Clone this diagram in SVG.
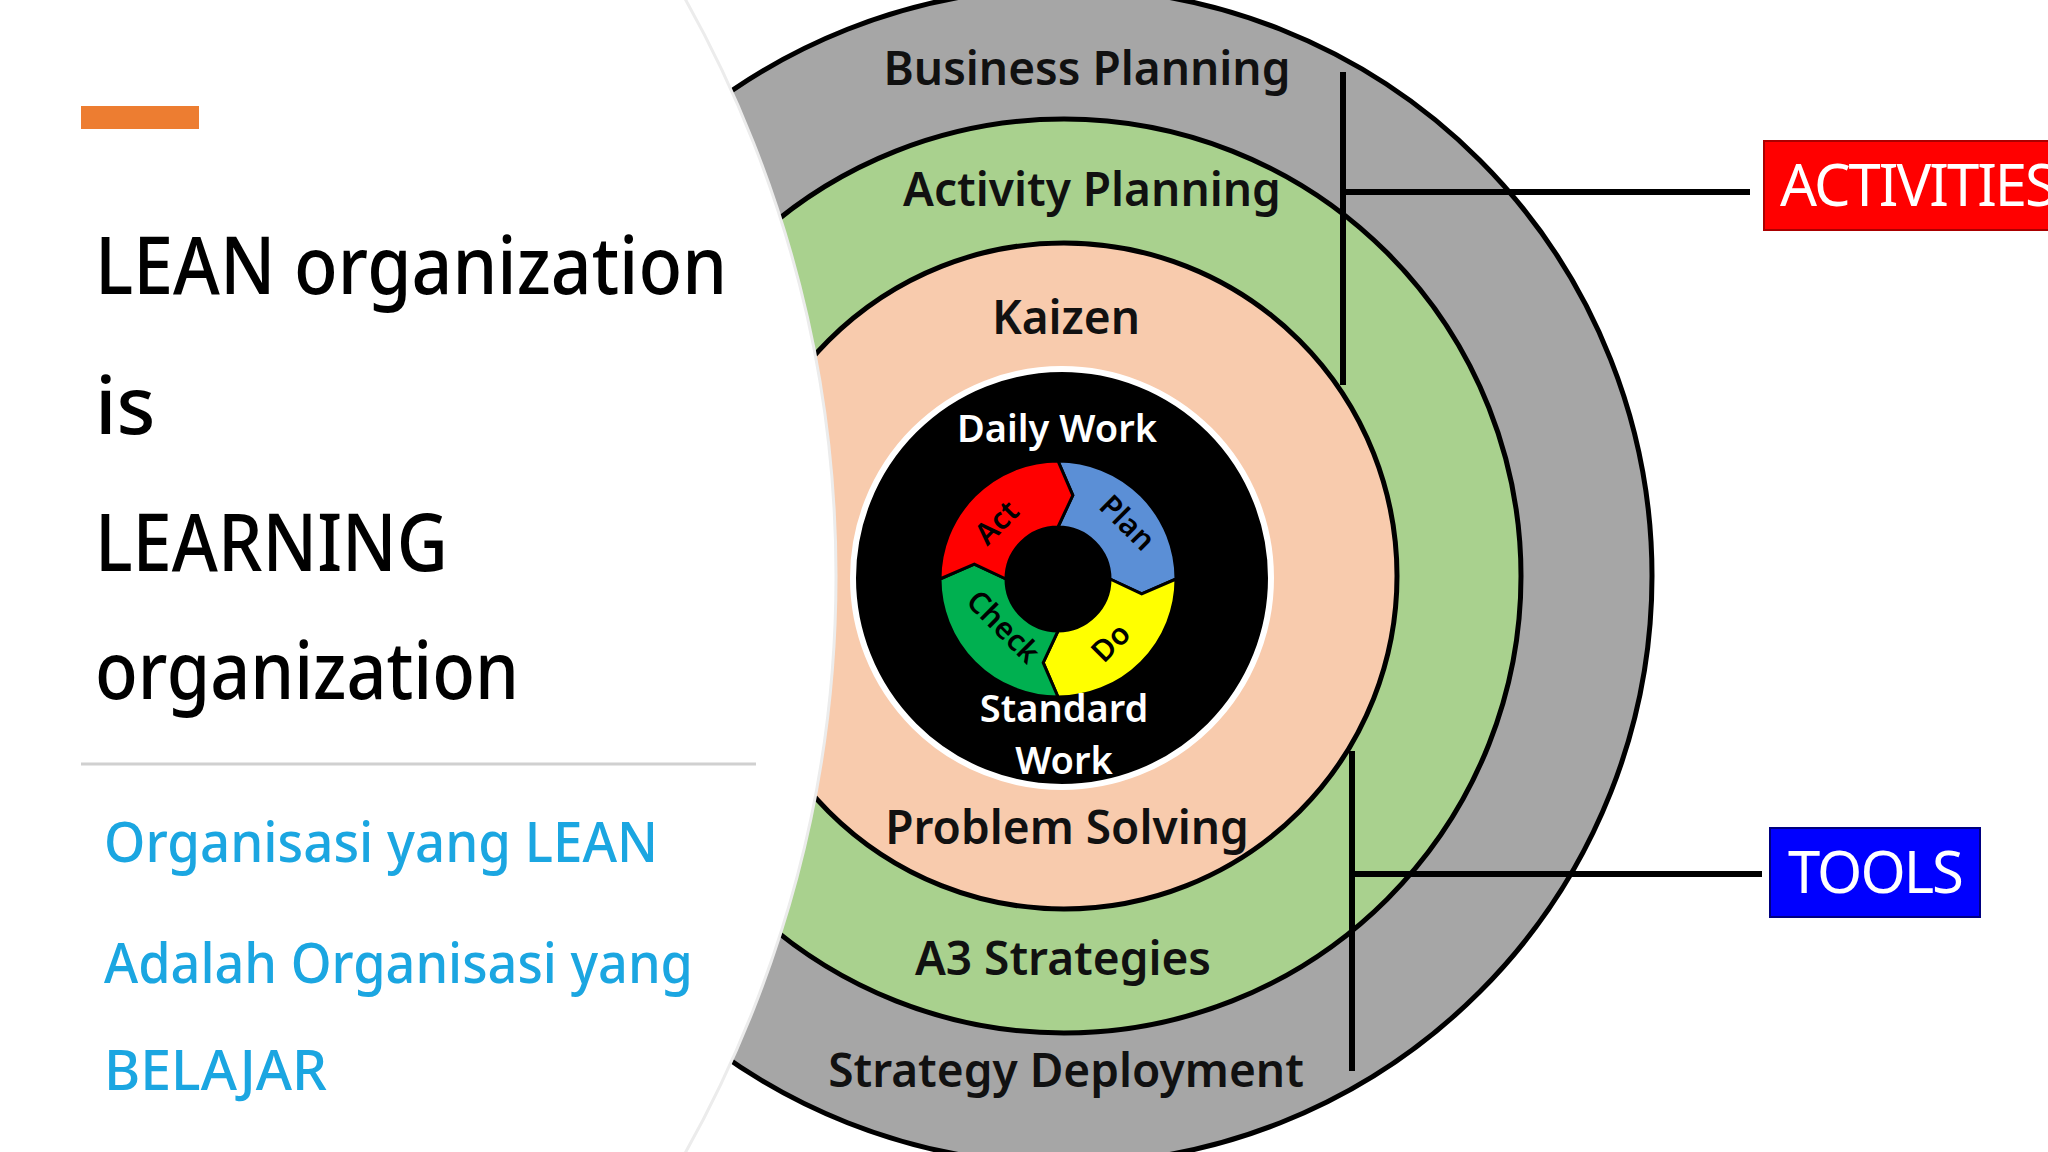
<svg xmlns="http://www.w3.org/2000/svg" width="2048" height="1152" viewBox="0 0 2048 1152">
<style>
.ring{stroke:#000;stroke-width:5}
.lbl{font-family:"Noto Sans","Liberation Sans",sans-serif;font-weight:600;font-size:46px;text-anchor:middle;fill:#111}
.wl{font-family:"Noto Sans","Liberation Sans",sans-serif;font-weight:600;font-size:38px;text-anchor:middle;fill:#fff}
.pd{font-family:"Noto Sans","Liberation Sans",sans-serif;font-weight:600;font-size:30px;text-anchor:middle;fill:#000}
.title{font-family:"Noto Sans","Liberation Sans",sans-serif;font-weight:500;font-size:80px;fill:#000}
.sub{font-family:"Noto Sans","Liberation Sans",sans-serif;font-weight:500;font-size:56px;fill:#1ba6e1}
.conn{stroke:#000;stroke-width:6;fill:none}
</style>
<rect width="2048" height="1152" fill="#fff"/>
<g id="rings">
<circle class="ring" cx="1064" cy="576" r="588" fill="#a6a6a6"/>
<circle class="ring" cx="1064" cy="576" r="457" fill="#a9d18e"/>
<circle class="ring" cx="1064" cy="576" r="333" fill="#f8cbad"/>
<circle cx="1062" cy="578" r="209" fill="#000" stroke="#fff" stroke-width="6"/>
</g>
<g id="pdca" stroke="#000" stroke-width="3">
<path id="plan" fill="#5b8fd6" d="M1058,461 A118,118 0 0 1 1176,579 L1141.7,593.8 L1110,579 A52,52 0 0 0 1058,527 L1072.8,495.3 Z"/>
<path id="do" fill="#ffff00" d="M1176,579 A118,118 0 0 1 1058,697 L1043.2,662.7 L1058,631 A52,52 0 0 0 1110,579 L1141.7,593.8 Z"/>
<path id="check" fill="#00b050" d="M1058,697 A118,118 0 0 1 940,579 L974.3,564.2 L1006,579 A52,52 0 0 0 1058,631 L1043.2,662.7 Z"/>
<path id="act" fill="#ff0000" d="M940,579 A118,118 0 0 1 1058,461 L1072.8,495.3 L1058,527 A52,52 0 0 0 1006,579 L974.3,564.2 Z"/>
</g>
<g id="pdca-labels">
<text class="pd" transform="translate(1120,530) rotate(45)">Plan</text>
<text class="pd" transform="translate(1118,650) rotate(-45)">Do</text>
<text class="pd" transform="translate(996,634) rotate(45)">Check</text>
<text class="pd" transform="translate(1004,530) rotate(-45)">Act</text>
</g>
<g id="connectors">
<line class="conn" x1="1343" y1="72" x2="1343" y2="385"/>
<line class="conn" x1="1343" y1="192" x2="1750" y2="192"/>
<line class="conn" x1="1352" y1="751" x2="1352" y2="1071"/>
<line class="conn" x1="1352" y1="874" x2="1762" y2="874"/>
</g>
<circle id="mask" cx="-343" cy="576" r="1179" fill="#fff" stroke="#ececec" stroke-width="3"/>
<g id="ring-labels">
<text class="lbl" x="1087" y="85">Business Planning</text>
<text class="lbl" x="1092" y="206">Activity Planning</text>
<text class="lbl" x="1066" y="334">Kaizen</text>
<text class="wl" x="1057" y="442">Daily Work</text>
<text class="wl" x="1064" y="722">Standard</text>
<text class="wl" x="1064" y="774">Work</text>
<text class="lbl" x="1067" y="844">Problem Solving</text>
<text class="lbl" x="1063" y="975">A3 Strategies</text>
<text class="lbl" x="1066" y="1087">Strategy Deployment</text>
</g>
<g id="activities">
<rect x="1764" y="141" width="300" height="89" fill="#ff0000" stroke="#a00" stroke-width="2"/>
<text x="1780" y="206" font-family="'Noto Sans','Liberation Sans',sans-serif" font-size="58" fill="#fff" letter-spacing="-2">ACTIVITIES</text>
</g>
<g id="tools">
<rect x="1770" y="828" width="210" height="89" fill="#0000ff" stroke="#000080" stroke-width="2"/>
<text x="1875" y="893" text-anchor="middle" font-family="'Noto Sans','Liberation Sans',sans-serif" font-size="58" fill="#fff" letter-spacing="-2">TOOLS</text>
</g>
<g id="left-text">
<rect x="81" y="106" width="118" height="23" fill="#ed7d31"/>
<text class="title" x="95" y="294" textLength="632" lengthAdjust="spacingAndGlyphs">LEAN organization</text>
<text class="title" x="95" y="434">is</text>
<text class="title" x="95" y="571" textLength="353" lengthAdjust="spacingAndGlyphs">LEARNING</text>
<text class="title" x="95" y="699" textLength="424" lengthAdjust="spacingAndGlyphs">organization</text>
<line x1="81" y1="764" x2="756" y2="764" stroke="#d0d0d0" stroke-width="3"/>
<text class="sub" x="104" y="862" textLength="554" lengthAdjust="spacingAndGlyphs">Organisasi yang LEAN</text>
<text class="sub" x="104" y="983" textLength="589" lengthAdjust="spacingAndGlyphs">Adalah Organisasi yang</text>
<text class="sub" x="104" y="1090" textLength="223" lengthAdjust="spacingAndGlyphs">BELAJAR</text>
</g>
</svg>
